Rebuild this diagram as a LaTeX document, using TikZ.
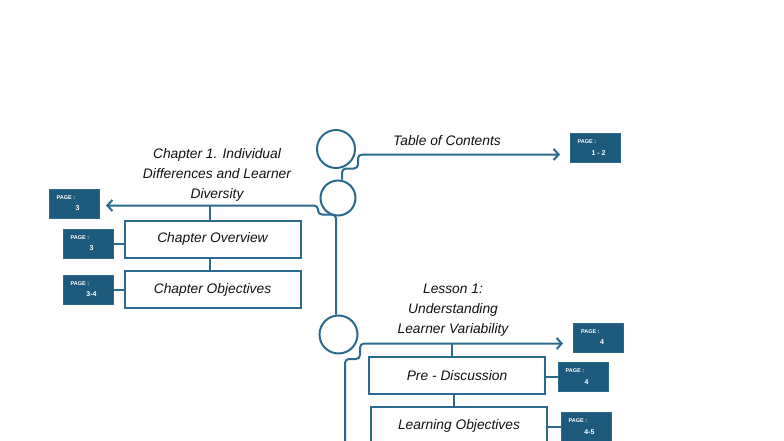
\documentclass[tikz,border=0pt]{standalone}
\usepackage{fontspec}
\setmainfont{Liberation Sans}
\usetikzlibrary{arrows.meta}
\definecolor{lineblue}{HTML}{2A6A8E}
\definecolor{pageblue}{HTML}{1E5A7B}
\definecolor{txt}{HTML}{111111}
\begin{document}
\begin{tikzpicture}[x=1pt,y=-1pt,
 conn/.style={draw=lineblue, line width=2pt},
 arr/.style={conn, rounded corners=4pt, -{Straight Barb[length=5pt,width=11pt]}},
 ring/.style={circle, draw=lineblue, line width=2pt, fill=white, inner sep=0pt},
 itembox/.style={draw=lineblue, line width=2pt, fill=white, minimum width=176pt, minimum height=37pt, inner sep=0pt, font=\fontsize{13.8}{16}\selectfont\itshape, text=txt},
 title/.style={align=center, font=\fontsize{13.8}{20}\selectfont\itshape, text=txt, inner sep=0pt},
 pagebox/.style={fill=pageblue, draw=lineblue, line width=1pt, minimum width=50pt, minimum height=29pt, inner sep=0pt},
 pagelbl/.style={font=\fontsize{5.5}{5.5}\selectfont\bfseries, text=white, inner sep=0pt, anchor=west},
 pagenum/.style={font=\fontsize{7}{7}\selectfont\bfseries, text=white, inner sep=0pt},
]
\useasboundingbox (0,0) rectangle (784,441);
\clip (0,0) rectangle (784,441);
\fill[white] (0,0) rectangle (784,441);

% circles
\node[ring, minimum size=38pt] (c1) at (336,149) {};
\node[ring, minimum size=35pt] (c2) at (338,198) {};
\node[ring, minimum size=38pt] (c3) at (338.5,334.5) {};

% page boxes
\node[pagebox] (p0) at (595,148) {};
\node[pagebox] (pA) at (74,203.5) {};
\node[pagebox] (pB) at (88,243.5) {};
\node[pagebox] (pC) at (88,289.5) {};
\node[pagebox] (pD) at (598.5,337.5) {};
\node[pagebox] (pE) at (583,377) {};
\node[pagebox] (pF) at (586,427) {};

\foreach \p/\n in {p0/1 - 2, pA/3, pB/3, pC/3-4, pD/4, pE/4, pF/4-5}{
  \node[pagelbl] at ([shift={(8,9)}]\p.north west) {PAGE :};
  \node[pagenum] at ([shift={(29,20)}]\p.north west) {\n};
}

% item boxes
\node[itembox] (ov) at (212.5,239) {Chapter Overview};
\node[itembox] (ob) at (212.5,289.5) {Chapter Objectives};
\node[itembox] (pd) at (457,375.5) {Pre - Discussion};
\node[itembox] (lo) at (459,425.5) {Learning Objectives};

% titles
\node[title] (t0) at (447,140.5) {Table of Contents};
\node[title] (t1) at (217,175) {Chapter 1. Individual\\Differences and Learner\\Diversity};
\node[title] (t2) at (453,310.5) {Lesson 1:\\Understanding\\Learner Variability};

% brackets and arrows
\coordinate (e0) at (560,154.5);
\coordinate (eA) at (106,205.5);
\coordinate (eD) at (563,343.5);
\coordinate (bot) at (345,450);

\draw[arr] (c2.north -| 342,0) -- (342,168.5) -- (358,168.5) -- (358,154.5) -- (e0);
\draw[arr] (c3.north -| 336,0) -- (336,214.5) -- (318,214.5) -- (318,205.5) -- (eA);
\draw[arr] (bot) -- (345,359) -- (360,359) -- (360,343.5) -- (eD);

% tree connectors
\draw[conn] ([xshift=-2.5pt]ov.north) -- ++(0,-15);
\draw[conn] ([xshift=-2.5pt]ov.south) -- ([xshift=-2.5pt]ob.north);
\draw[conn] ([xshift=-5pt]pd.north) -- ++(0,-13);
\draw[conn] ([xshift=-3pt]pd.south) -- ([xshift=-3pt]pd.south |- lo.north);

\draw[conn] (pB.east) -- (pB.east -| ov.west);
\draw[conn] (pC.east) -- (pC.east -| ob.west);
\draw[conn] (pE.west) -- (pE.west -| pd.east);
\draw[conn] (pF.west) -- (pF.west -| lo.east);
\end{tikzpicture}
\end{document}
